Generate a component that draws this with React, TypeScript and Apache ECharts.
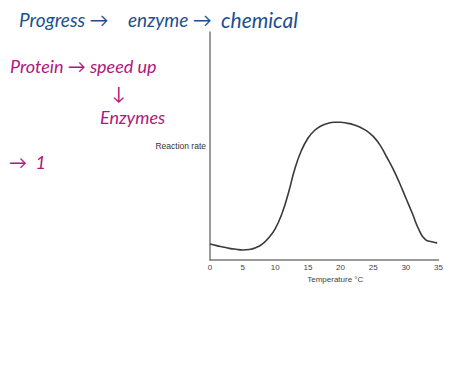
import React, { useEffect, useRef } from "react";
import * as echarts from "echarts";

const temperatures = [0, 1, 2, 3, 4, 5, 6, 7, 8, 9, 10, 11, 12, 13, 14, 15, 16, 17, 18, 19, 20, 21, 22, 23, 24, 25, 26, 27, 28, 29, 30, 31, 32, 33, 34, 34.8];
const reactionRates = [7.0, 6.3, 5.7, 5.1, 4.7, 4.4, 4.6, 5.4, 7.0, 9.8, 13.8, 20.2, 29.3, 40.0, 48.0, 53.4, 56.8, 58.8, 59.9, 60.4, 60.4, 60.0, 59.3, 58.2, 56.6, 54.2, 50.6, 45.5, 40.2, 34.0, 27.2, 20.4, 13.3, 8.9, 8.0, 7.5];
const xTicks = [0, 5, 10, 15, 20, 25, 30, 35];

const blueNotes = [
  { text: "Progress →", x: 19, size: 19 },
  { text: "enzyme →", x: 128, size: 19 },
  { text: "chemical", x: 221, size: 21 },
];
const pinkNotes = [
  { text: "Protein → speed up", x: 10, y: 66 },
  { text: "↓", x: 112, y: 93 },
  { text: "Enzymes", x: 100, y: 117 },
  { text: "→  1", x: 9, y: 162 },
];

export default function App() {
  const ref = useRef<HTMLDivElement>(null);
  useEffect(() => {
    if (!ref.current) return;
    const chart = echarts.init(ref.current, null, { renderer: "svg" });
    const hand = "Lato";
    chart.setOption({
      animation: false,
      backgroundColor: "#ffffff",
      grid: { left: 210, right: 35.5, top: 32, bottom: 128 },
      xAxis: {
        type: "value",
        min: 0,
        max: 35,
        interval: 5,
        name: "Temperature °C",
        nameLocation: "middle",
        nameGap: 13,
        nameTextStyle: { fontFamily: "Liberation Sans", fontSize: 8, color: "#444", padding: [0, 0, 0, 22] },
        axisLine: { lineStyle: { color: "#7a7a7a", width: 1.5 } },
        axisTick: { show: false },
        splitLine: { show: false },
        axisLabel: {
          fontFamily: "Liberation Sans",
          fontSize: 8,
          color: "#444",
          margin: 3,
          formatter: (v: number) => (xTicks.includes(v) ? String(v) : ""),
        },
      },
      yAxis: {
        type: "value",
        min: 0,
        max: 100,
        name: "Reaction rate",
        nameLocation: "middle",
        nameRotate: 0,
        nameGap: 4,
        nameTextStyle: { fontFamily: "Liberation Sans", fontSize: 8.5, color: "#333", align: "right", padding: [0, 0, 6, 0] },
        axisLine: { show: true, lineStyle: { color: "#7a7a7a", width: 1.5 } },
        axisTick: { show: false },
        axisLabel: { show: false },
        splitLine: { show: false },
      },
      series: [
        {
          type: "line",
          data: temperatures.map((t, i) => [t, reactionRates[i]]),
          smooth: true,
          showSymbol: false,
          lineStyle: { color: "#3a3a3a", width: 1.6 },
        },
      ],
      graphic: [
        ...blueNotes.map((n) => ({
          type: "text",
          x: n.x,
          y: 19,
          style: {
            text: n.text,
            fill: "#1d4f8f",
            fontFamily: hand,
            fontStyle: "italic",
            fontSize: n.size,
            verticalAlign: "middle",
          },
        })),
        ...pinkNotes.map((n) => ({
          type: "text",
          x: n.x,
          y: n.y,
          style: {
            text: n.text,
            fill: "#b0177d",
            fontFamily: hand,
            fontStyle: "italic",
            fontSize: 18,
            verticalAlign: "middle",
          },
        })),
      ],
    });
    return () => chart.dispose();
  }, []);
  return <div ref={ref} style={{ position: "fixed", left: 0, top: 0, width: 474, height: 388 }} />;
}
